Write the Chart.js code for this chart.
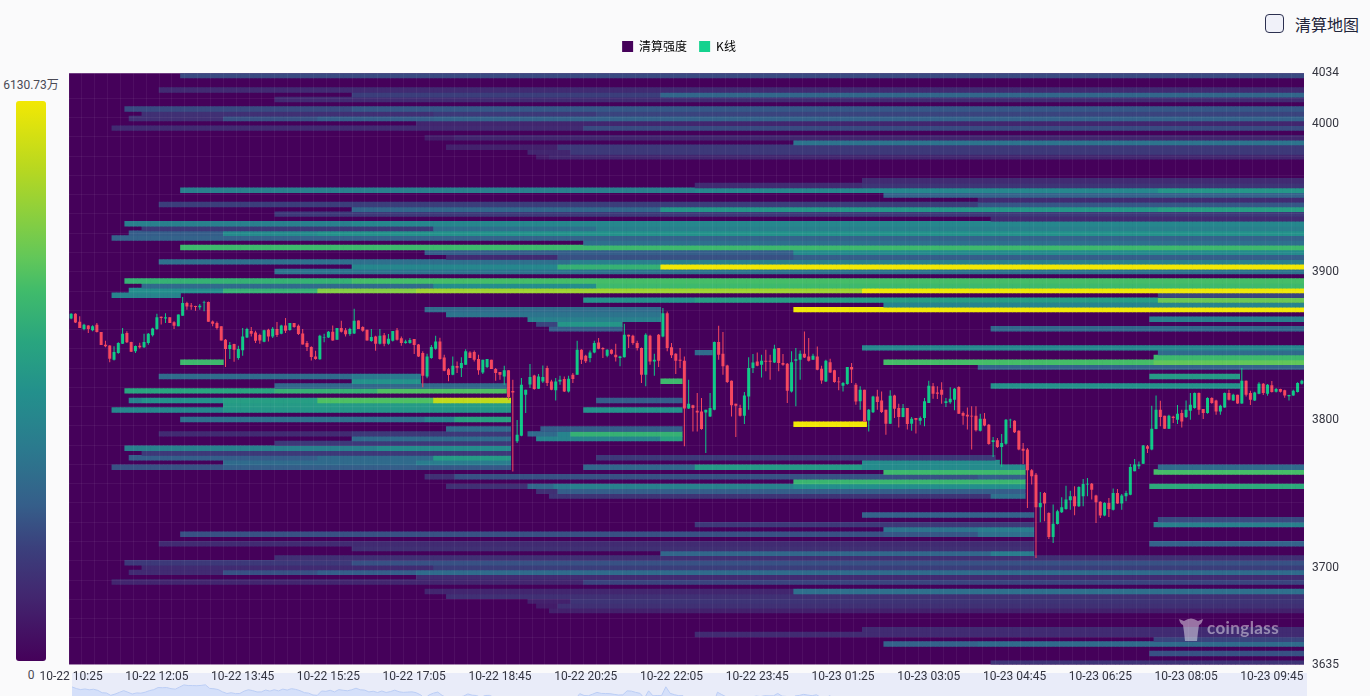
<!DOCTYPE html>
<html>
<head>
<meta charset="utf-8">
<title>清算地图</title>
<script src="https://cdn.jsdelivr.net/npm/chart.js@4"></script>
<style>
html, body { margin: 0; padding: 0; width: 1370px; height: 696px; overflow: hidden; background: #fafafb; font-family: Roboto, "Noto Sans CJK SC", sans-serif; }
#chart { position: absolute; left: 0; top: 0; z-index: 2; }
#slider { position: absolute; left: 72px; top: 673px; width: 1235px; height: 23px; background: #e9ecf9; overflow: hidden; z-index: 1; }
#visualBar { position: absolute; left: 16px; top: 101px; width: 30px; height: 560px; border-radius: 3px; }
.maxLabel, .minLabel { position: absolute; left: 0; width: 62px; text-align: center; font-size: 12px; color: #4a4a55; }
.maxLabel { top: 75px; }
.minLabel { top: 668px; }
#toggle { position: absolute; left: 1265px; top: 14px; width: 17px; height: 17px; border: 1.5px solid #2c3050; border-radius: 4px; background: #f0f1f9; }
#toggleText { position: absolute; left: 1295px; top: 13px; font-size: 16px; line-height: 22px; color: #22253a; font-family: "Noto Sans CJK SC", sans-serif; }
#mark { position: absolute; left: 1178px; top: 614px; width: 104px; height: 28px; z-index: 3; pointer-events: none; }
#mark span { position: absolute; left: 29px; top: 3px; font: 700 17px Lato, sans-serif; letter-spacing: .4px; color: rgba(255,255,255,.45); }
#mark svg { position: absolute; left: 0; top: 0; }
</style>
</head>
<body>
<div class="maxLabel">6130.73万</div>
<div id="visualBar"></div>
<div class="minLabel">0</div>
<div id="slider"><canvas id="miniChart" width="1235" height="60"></canvas></div>
<canvas id="chart" width="1358" height="696"></canvas>
<div id="toggle"></div>
<div id="toggleText">清算地图</div>
<div id="mark">
    <svg width="26" height="28" viewBox="0 0 26 28"><path d="M1 5 L6 7 Q13 2 20 7 L25 5 Q24 10 21 11 L20 18 L19 27 L7 27 L6 18 L5 11 Q2 10 1 5 Z" fill="rgba(255,255,255,.45)"/></svg>
    <span>coinglass</span>
</div>

<script>
// Velas de 5 minutos
const opens = [3868.5,3871.7,3866.3,3861.4,3863.8,3860.5,3864.3,3859.3,3850.8,3850.3,3840.7,3845.2,3851.5,3858.7,3852.6,3846.3,3850.1,3849,3851.9,3857.1,3861.4,3869.7,3868.5,3869.4,3866,3863.2,3870.3,3878.9,3877.3,3876.9,3876,3878.9,3879.6,3866.5,3865.4,3863.2,3854.2,3847.9,3851.2,3841.8,3847,3855.7,3860,3859.1,3857.3,3852.8,3860.9,3856.4,3861.4,3858.2,3863.8,3860.7,3865.4,3863.6,3858.4,3851.9,3849.2,3842.9,3840.9,3855.3,3855.7,3859.6,3854.2,3862,3860.5,3858,3858.4,3867.2,3862.7,3860.9,3853.3,3856.4,3851.5,3857.1,3851.5,3853.5,3860.5,3855.1,3851.9,3851.9,3854.6,3851,3845.2,3829.4,3841.8,3848.1,3853,3842.2,3834.2,3830.5,3836.4,3835,3837.3,3845.6,3845.8,3841.1,3832,3835.7,3840.6,3834.4,3832.3,3829.4,3833.5,3819.5,3785.6,3789.4,3817,3824,3830,3821.1,3826,3835,3826,3820,3826,3827.6,3819.3,3830.5,3830.5,3847.4,3843.3,3841.8,3845.6,3852.3,3848.5,3843.3,3847.4,3844,3841.8,3842.4,3857.5,3856.8,3851.9,3848.5,3830.5,3856.8,3839.5,3857.5,3856.4,3872.1,3849,3844.7,3840.6,3840,3807.8,3810,3806.3,3805.8,3805,3802.4,3806.9,3852.6,3844.7,3836.8,3826.5,3811,3808,3802.9,3815.9,3835,3839.5,3837.3,3840,3840,3838.8,3848.5,3838.4,3838,3819.3,3840,3840.6,3844.7,3842.9,3840.6,3842.9,3834.6,3826,3839,3833.5,3826,3823.1,3824.2,3835.7,3823.8,3812.6,3820.4,3799.7,3805.2,3815.9,3813.2,3806.9,3797.5,3816.6,3808.1,3802,3808.1,3797.5,3801.3,3799.5,3801.3,3811.4,3822.7,3818.6,3820.4,3811.4,3811.9,3813.7,3822.2,3804.7,3803.6,3802.9,3802.9,3792.8,3800.9,3796.8,3785.1,3786.3,3781.8,3784,3799.8,3799.5,3792.8,3780.6,3780,3766,3763.1,3741.1,3750.7,3737.3,3721,3729.8,3737.7,3740,3745.8,3748.5,3741.8,3748.5,3756.4,3757,3749,3744.9,3735.5,3744,3739.5,3750.7,3743.6,3748.5,3749.6,3765.4,3768.7,3770.5,3782.2,3780,3793.9,3806.9,3802.9,3794.1,3802.2,3800.2,3804.7,3802,3806.3,3808.1,3818.2,3807.4,3804.7,3814.8,3813.2,3805.8,3808.5,3818.2,3813.2,3817,3811.2,3826.5,3818.2,3813.2,3817.7,3824.5,3817.7,3823.4,3819.1,3820.9,3820,3816,3816.6,3818.9,3824.5];
const closes = [3871.7,3865.8,3862,3864.3,3861.4,3863.2,3859.3,3850.6,3849.7,3841.3,3845.8,3851.9,3858.2,3852.4,3846.1,3849.9,3849,3852.6,3858.2,3861.8,3869.4,3868.8,3869.4,3865.4,3863.6,3871.2,3878.9,3876.6,3876.6,3876.2,3877.1,3879.3,3866.3,3865,3862,3853.7,3847.9,3850.6,3847.4,3847.9,3856.4,3861.4,3858.2,3853.5,3853.7,3860.5,3856.4,3861.6,3857.3,3863.8,3860.2,3865.4,3862.7,3858,3851,3849.2,3842.5,3841.1,3856.9,3855.7,3859.6,3853.7,3862,3859.6,3857.8,3861.4,3867,3861.4,3860.2,3853.7,3856,3851.5,3856.9,3851.5,3854.8,3860,3854.2,3851.9,3853,3853.9,3850.6,3842.9,3829.9,3842.9,3849.2,3853,3841.1,3833.3,3830.3,3836.6,3835.3,3838.4,3846.3,3841.8,3840.6,3833.5,3840.6,3841.1,3834.4,3831.7,3830.5,3833.5,3815.5,3818.5,3790,3823.8,3820.4,3829,3820.9,3829.4,3829,3824.9,3820.4,3826,3827.2,3819.3,3827.8,3827.6,3847.4,3840.6,3839.7,3845.6,3851.9,3848.1,3847.8,3847.4,3844.7,3842.4,3842.9,3857.5,3856.4,3851.9,3848.5,3830.5,3857.5,3839.5,3840.6,3840,3872.1,3848.5,3843.6,3840,3840,3807.8,3811,3808,3805.1,3793.9,3806.9,3808,3852.6,3844,3836.2,3825.6,3810,3809.6,3802.9,3816.6,3835,3838.8,3836.6,3840,3839.3,3839.3,3848.1,3838.4,3837.3,3819.7,3839,3841,3844.7,3842.2,3840,3843.3,3833.9,3826.7,3840,3832.1,3825.6,3825.5,3824.9,3835.7,3834,3812.5,3820.4,3799,3806.9,3815.9,3812.1,3805.4,3797.5,3816.4,3807.6,3802,3808.1,3797.3,3800.9,3800.2,3801.3,3812.6,3823.1,3817.7,3817.7,3817,3812.6,3814.4,3821.1,3804.2,3802.9,3802.4,3802.4,3793,3800.9,3796.2,3783.8,3786.3,3781.8,3784.5,3800.2,3800.2,3791.7,3780,3779.3,3766,3762,3741.1,3744,3743.6,3721,3730,3738.4,3741.1,3746.3,3748.5,3741.8,3754.8,3756.8,3757,3753,3744.5,3735.5,3744,3739.9,3750.7,3743.6,3749,3750.7,3768.3,3769.9,3769.9,3782.7,3780.6,3794.1,3806.9,3802,3794.1,3802.9,3801.3,3804.2,3799,3806.9,3810.3,3818.2,3806.9,3804.7,3814.8,3811.4,3805.8,3809.6,3818.2,3813.7,3817,3811.2,3826.5,3817,3813.7,3818.6,3824.5,3818.2,3823.8,3818.9,3820.9,3819.1,3816.6,3816.8,3819.8,3824.9,3826.5];
const highs = [3872,3872,3870,3865,3864,3864,3865.4,3859.3,3853.5,3850.5,3849.7,3852.4,3862,3859.8,3852.8,3850.3,3852.1,3858.2,3858.7,3862.2,3871.7,3869.9,3872.1,3869.4,3866.7,3871.2,3882.9,3879.8,3878.9,3877.1,3878.2,3880.5,3880,3867.2,3866.5,3863.2,3854.6,3852.6,3851.5,3850.1,3862,3862.3,3862.7,3860.2,3858.2,3860.9,3861.6,3862.7,3866.1,3864.3,3868.8,3865.4,3865.4,3864.5,3861.4,3853.3,3849.7,3846.7,3857.5,3858.2,3860,3863.8,3862,3867,3862,3862.3,3875,3867.2,3863.2,3860.9,3861.4,3856.9,3861.4,3858.7,3858,3860,3862,3856.4,3854.2,3855.3,3854.6,3851.2,3846.3,3844.7,3850.6,3856.9,3855.5,3844,3835.1,3842.9,3839.5,3842.4,3847.8,3846.3,3846.9,3844,3840.6,3841.1,3840.6,3835,3832.3,3836.6,3833.5,3827.2,3800,3828.3,3820.4,3837.7,3830.5,3831,3836.8,3836.6,3827.2,3828.3,3829.9,3829.4,3829.9,3831.7,3853.5,3847.8,3844,3846.9,3853.5,3855.3,3849,3847.8,3847.8,3851.4,3843.3,3864.9,3857.5,3857.5,3853.5,3848.9,3858.6,3857.5,3844.7,3858,3875.5,3873.2,3851.9,3845.1,3848.5,3842.9,3827.2,3810.3,3818.2,3814.8,3806.9,3818.2,3853,3863.6,3859.3,3837.3,3826.7,3811,3810.3,3818.8,3842.4,3844.5,3845.6,3844,3847.4,3844,3850.8,3848.5,3844.5,3838.4,3846.3,3848.5,3846.9,3859.7,3855.3,3844.7,3849.6,3836.6,3840.6,3841.3,3833.9,3829,3825.6,3835.7,3838.4,3824.9,3822.7,3820.4,3807.4,3816.4,3820.4,3819.3,3806.9,3820,3817.1,3811,3810.8,3808.1,3802,3801.3,3802.4,3814.8,3826.5,3824.9,3822.7,3825.4,3814.8,3822,3821.6,3822.7,3805.8,3808.5,3809.2,3809.2,3804.2,3804.7,3797.3,3788.5,3787.8,3790.5,3800.7,3800.9,3799.8,3793,3784.5,3781.1,3766.9,3764.2,3751.4,3751.4,3737.7,3742.9,3739.5,3747.8,3755.7,3752.3,3755.2,3755.2,3760.2,3760.9,3757.5,3749.6,3745.1,3744.4,3747.4,3753.7,3753.4,3750.1,3752.3,3770.3,3773.7,3772,3783.1,3783.1,3809.6,3816.6,3813,3802.9,3803.6,3802.9,3810.1,3806.9,3813.2,3818.2,3818.6,3818.6,3807.4,3815.3,3815.3,3813.7,3810.3,3818.6,3820.4,3817.7,3817,3835,3826.7,3819.8,3819.1,3825.4,3824.9,3824.3,3826.3,3821.6,3821.1,3820.4,3817.1,3820.4,3825.4,3827.2];
const lows = [3868,3865.5,3862,3860.5,3858.7,3859.8,3859,3850.6,3849,3838.9,3840.2,3844.7,3851.2,3851.9,3845.8,3845.2,3848.3,3848.5,3850.8,3856.4,3860.9,3864.5,3865.4,3865.4,3861.4,3863.2,3870.3,3874.4,3874.4,3873.7,3874.4,3873.3,3866.3,3863.2,3861.1,3853.7,3835.7,3841.1,3839.3,3840.7,3843.4,3855.3,3856.4,3851.9,3851.5,3852.4,3853,3855.3,3856,3857.8,3858.7,3860.2,3862.3,3857.3,3851,3846.5,3840.2,3840.7,3840.7,3852.4,3855.3,3853.5,3854.2,3859.1,3856.4,3856.9,3858,3861.4,3859.6,3853.7,3852.8,3846.7,3851,3849.7,3850.8,3853,3853.7,3850.1,3851.5,3851.5,3844.5,3842.5,3822,3828.1,3841.3,3847.4,3840.7,3832.8,3826.1,3830.1,3831.7,3829,3837.3,3841.8,3839.5,3830.5,3831,3835,3834.4,3826.5,3827.2,3823.8,3813.7,3765.3,3784.4,3789,3804.7,3821.5,3820.4,3820.9,3824.9,3823,3820,3813.2,3823.8,3818.8,3818.6,3824.9,3830.5,3837.7,3838.4,3838.9,3845.1,3847.8,3841.8,3842.4,3844.2,3839.5,3836.2,3842.2,3848.5,3850.8,3846.9,3824.9,3822.7,3837.3,3829.9,3835.7,3855.9,3846.3,3841.8,3831,3835,3782.2,3807.4,3792.3,3792.3,3793.4,3777.7,3802,3806.5,3840.6,3830.5,3824.9,3802.4,3788.5,3802.4,3797.3,3806.9,3831.7,3836.2,3828.7,3832.8,3827.2,3838.4,3832.8,3836.6,3811.4,3818.6,3809.2,3827.2,3841.8,3839.5,3840.6,3833.5,3824.5,3825.6,3831.7,3825.1,3820,3819.3,3823.8,3824.9,3810.3,3806.9,3799,3792.3,3804.7,3806.9,3804.7,3790.1,3797.3,3801.3,3795,3801.8,3793.5,3792.8,3790.8,3796.8,3795.7,3811.4,3814.4,3814.1,3811,3808.7,3811,3806.5,3804,3796.8,3793.5,3780,3792.3,3792.3,3795.7,3783.3,3775,3781.1,3768.3,3783.3,3794.6,3791.2,3779.5,3770.3,3740.6,3756.4,3706.9,3731,3731.6,3719.7,3717,3729.4,3737.3,3739.5,3739.5,3735.7,3741.3,3741.8,3748.5,3746.3,3730.5,3733.9,3735,3734.6,3739,3743.4,3739.5,3745.1,3749.2,3765.4,3767,3770.3,3777.7,3779.5,3793.7,3795.7,3793.9,3793.9,3798,3797.3,3795,3801.3,3800.2,3807.6,3803.6,3800.7,3804.2,3811,3803.6,3803.6,3808.3,3813.2,3813,3811,3811,3815.9,3810.1,3812.8,3817.3,3816.8,3816.4,3818.6,3818.6,3818.6,3815,3813.2,3816.4,3818.6,3824];

// Precios del eje derecho
const yTicks = [3635, 3700, 3800, 3900, 4000, 4034];
const yMin = 3635;
const yMax = 4034;
const rowSize = 3.2233; // altura de un tramo de precio

// Bandas de liquidación: [fila, vela inicial, vela final (excluida), intensidad en 万]
const heatBands = [
    [0,26,288,1400],
    [3,21,288,800],
    [4,66,138,1200],[4,138,288,1900],
    [5,48,288,800],
    [7,13,66,1400],[7,66,288,1600],
    [8,17,85,900],[8,85,123,1100],[8,123,288,1300],
    [9,14,36,900],[9,36,58,1500],[9,58,85,1700],[9,85,288,1800],
    [10,81,288,700],
    [11,10,120,800],[11,120,288,1400],
    [13,83,90,500],[13,90,288,700],
    [14,169,288,2200],
    [15,88,114,600],[15,114,288,1100],
    [16,107,117,700],[16,117,288,1100],
    [17,109,112,500],[17,112,288,700],
    [22,185,288,800],
    [23,146,185,800],[23,185,288,1000],
    [24,26,146,2500],[24,146,254,2700],[24,254,288,3100],
    [25,190,288,1800],
    [26,212,288,800],
    [27,21,212,1200],[27,212,288,1600],
    [28,66,138,1900],[28,138,254,3100],[28,254,288,3300],
    [29,48,288,1100],
    [30,215,288,800],
    [31,13,66,2500],[31,66,288,2700],
    [32,17,85,1100],[32,85,123,2100],[32,123,288,2500],
    [33,14,36,1700],[33,36,58,2800],[33,58,288,3000],
    [34,10,288,1800],
    [35,120,288,2100],
    [36,26,288,4000],
    [37,83,169,1700],[37,169,288,2800],
    [38,88,114,800],[38,114,169,1500],[38,169,288,1700],
    [39,21,117,2100],[39,117,288,2500],
    [40,66,114,2700],[40,114,138,3800],[40,138,288,6130],
    [41,48,288,2200],
    [43,13,66,3800],[43,66,288,4100],
    [44,17,85,2000],[44,85,123,2900],[44,123,288,4000],
    [45,14,36,2900],[45,36,58,3800],[45,58,81,4800],[45,81,185,5100],[45,185,288,6100],
    [46,10,26,2600],[46,254,288,1300],
    [47,120,146,3000],[47,146,254,3300],[47,254,288,4500],
    [48,190,288,2600],
    [49,83,138,2000],[49,169,288,6130],
    [50,88,138,2200],
    [51,107,138,2500],[51,252,288,2500],
    [52,109,114,1300],[52,114,129,3100],
    [53,112,129,1700],[53,215,288,1900],
    [57,185,288,2700],
    [58,146,150,2000],[58,254,288,2000],
    [59,253,288,4000],
    [60,26,36,4000],[60,190,253,4100],[60,253,288,4400],
    [61,212,288,1800],
    [63,21,66,2000],[63,66,82,2300],[63,252,273,3200],
    [64,66,82,3000],[64,138,143,4000],
    [65,48,102,1900],[65,215,273,3000],
    [66,13,48,3500],[66,48,72,3800],[66,72,102,4200],
    [68,14,17,2600],[68,17,36,3000],[68,36,58,3300],[68,58,85,4200],[68,85,103,5500],[68,123,143,1700],
    [69,36,103,3200],
    [70,10,36,2700],[70,36,103,3100],[70,120,143,3000],
    [72,26,83,2100],[72,83,90,2600],[72,90,103,3400],
    [73,169,186,6130],
    [74,88,103,2000],[74,110,143,1700],
    [75,21,66,800],[75,66,103,1100],[75,107,114,2000],[75,114,117,2600],[75,117,143,3800],
    [76,66,103,2000],[76,109,138,2600],[76,138,143,3400],
    [77,48,103,1100],
    [78,13,72,2500],[78,72,103,2800],
    [79,17,103,1100],
    [80,14,58,1700],[80,58,85,2000],[80,85,103,3200],[80,123,216,1100],
    [81,36,81,2000],[81,81,103,2400],[81,185,217,2800],
    [82,10,36,1500],[82,36,81,1700],[82,81,103,1600],[82,120,146,1900],[82,146,185,3200],[82,185,223,2800],[82,254,288,2000],
    [83,190,223,4000],[83,253,288,4100],
    [84,83,90,900],[84,90,212,1500],[84,212,223,1700],
    [85,169,223,3900],
    [86,88,107,900],[86,107,113,1900],[86,113,117,2300],[86,117,169,2500],[86,169,223,2900],[86,252,288,3600],
    [87,109,114,900],[87,114,223,1700],
    [88,112,215,1000],[88,215,223,2100],
    [92,185,225,1800],
    [93,254,288,1400],
    [94,146,225,1100],[94,253,288,2500],
    [95,190,212,2200],[95,212,225,2400],
    [96,26,190,1500],[96,190,212,1600],[96,212,225,2100],
    [98,21,225,800],[98,252,288,1800],
    [99,66,225,900],
    [100,138,215,1900],[100,215,225,2400],
    [101,48,288,900],
    [102,13,66,1100],[102,66,288,1500],
    [103,17,85,800],[103,85,288,1200],
    [104,14,36,800],[104,36,58,1500],[104,58,81,1700],[104,81,288,2000],
    [105,81,288,800],
    [106,10,120,700],[106,120,288,1300],
    [108,83,169,700],[108,169,288,2100],
    [109,88,288,900],
    [110,107,117,600],[110,117,288,1000],
    [111,109,114,500],[111,114,288,900],
    [112,112,288,600],
    [116,185,288,800],
    [117,146,288,800],
    [118,253,288,1300],
    [119,190,212,1800],[119,212,288,2000],
    [121,252,288,1500],
    [123,215,288,1000]
];
const heatMax = 6130.73;

// Escala de colores del mapa
const colorStops = [
    [0, [69, 1, 90]], [0.12, [66, 40, 112]], [0.2, [59, 63, 124]], [0.28, [53, 95, 138]],
    [0.38, [43, 122, 142]], [0.48, [35, 144, 140]], [0.57, [41, 165, 127]], [0.66, [64, 187, 107]],
    [0.72, [98, 199, 89]], [0.88, [184, 216, 32]], [1, [242, 232, 4]]
];

function colorDe(valor) {
    const t = Math.min(valor / heatMax, 1);
    for (let i = 1; i < colorStops.length; i++) {
        const [t1, c1] = colorStops[i];
        if (t <= t1) {
            const [t0, c0] = colorStops[i - 1];
            const k = (t - t0) / (t1 - t0);
            return `rgb(${c0.map((c, j) => Math.round(c + (c1[j] - c) * k)).join(',')})`;
        }
    }
    return 'rgb(242,232,4)';
}

// Etiquetas de tiempo: una vela cada 5 minutos desde 10-22 10:25
const timeLabels = [];
for (let i = 0; i < opens.length; i++) {
    const total = 10 * 60 + 25 + i * 5;
    const dia = total >= 1440 ? '10-23' : '10-22';
    const h = String(Math.floor(total % 1440 / 60)).padStart(2, '0');
    const m = String(total % 60).padStart(2, '0');
    timeLabels.push(`${dia} ${h}:${m}`);
}

// Un dataset por fila de precio, con barras flotantes de una vela de ancho
const filas = {};
heatBands.forEach(([fila, desde, hasta, valor]) => {
    if (!filas[fila]) {
        filas[fila] = { data: [], colores: [] };
    }
    for (let i = desde; i < hasta; i++) {
        const techo = yMax - fila * rowSize;
        filas[fila].data.push({ x: timeLabels[i], y: [techo - rowSize, techo] });
        filas[fila].colores.push(colorDe(valor));
    }
});
const datasetsCalor = Object.values(filas).map(f => ({
    label: '清算强度',
    data: f.data,
    backgroundColor: f.colores,
    barPercentage: 1,
    categoryPercentage: 1,
    grouped: false,
    order: 3
}));

const verde = '#10c987';
const rojo = '#f5475f';
const coloresVela = opens.map((o, i) => closes[i] >= o ? verde : rojo);

const datasetsVela = [
    {
        label: 'K线',
        data: opens.map((o, i) => [o, closes[i]]),
        backgroundColor: coloresVela,
        barThickness: 3,
        grouped: false,
        inflateAmount: 0,
        order: 1
    },
    {
        label: 'K线 mecha',
        data: lows.map((l, i) => [l, highs[i]]),
        backgroundColor: coloresVela,
        barThickness: 1,
        grouped: false,
        inflateAmount: 0,
        order: 2
    }
];

// Fondo del área y separación bajo la leyenda
const fondoMapa = {
    id: 'fondoMapa',
    beforeInit(chart) {
        const fit = chart.legend.fit;
        chart.legend.fit = function () {
            fit.call(this);
            this.height += 10.8;
        };
    },
    beforeDatasetsDraw(chart) {
        const { ctx, chartArea } = chart;
        ctx.save();
        ctx.fillStyle = colorDe(0);
        ctx.fillRect(chartArea.left, chartArea.top, chartArea.width, chartArea.height);
        ctx.restore();
    }
};

Chart.defaults.font.family = 'Roboto, "Noto Sans CJK SC", sans-serif';
Chart.defaults.font.size = 12;
Chart.defaults.animation = false;

new Chart(document.getElementById('chart'), {
    type: 'bar',
    data: {
        labels: timeLabels,
        datasets: [...datasetsVela, ...datasetsCalor]
    },
    plugins: [fondoMapa],
    options: {
        responsive: false,
        layout: { padding: { top: 28.4, bottom: 11.5 } },
        plugins: {
            tooltip: { enabled: false },
            legend: {
                position: 'top',
                labels: {
                    boxWidth: 11,
                    boxHeight: 11,
                    padding: 12,
                    color: '#45454f',
                    font: { size: 12, family: '"Noto Sans CJK SC", sans-serif' },
                    generateLabels: () => [
                        { text: '清算强度', fillStyle: colorDe(0), lineWidth: 0, hidden: false, datasetIndex: 2 },
                        { text: 'K线', fillStyle: '#14d28e', lineWidth: 0, hidden: false, datasetIndex: 0 }
                    ]
                }
            }
        },
        scales: {
            x: {
                offset: true,
                grid: {
                    z: 1,
                    offset: true,
                    tickLength: 0,
                    color: ctx => ctx.index % 3 === 0 ? 'rgba(255,255,255,0.055)' : 'transparent'
                },
                border: { display: false },
                ticks: {
                    autoSkip: false,
                    maxRotation: 0,
                    minRotation: 0,
                    padding: 5,
                    color: '#33343f',
                    callback: (v, i) => i % 20 === 0 ? timeLabels[i] : ''
                },
                afterFit: scale => { scale.height = 20; }
            },
            y: {
                position: 'right',
                min: yMin,
                max: yMax,
                grid: { display: false, tickLength: 0 },
                border: { display: false },
                ticks: { padding: 8, color: '#33343f', callback: v => v },
                afterBuildTicks: scale => { scale.ticks = yTicks.map(value => ({ value })); },
                afterFit: scale => { scale.width = 54; }
            },
            yGrid: {
                position: 'left',
                min: yMin,
                max: yMax,
                grid: { z: 1, tickLength: 0, color: 'rgba(255,255,255,0.055)' },
                border: { display: false },
                ticks: { display: false, stepSize: 13 },
                afterFit: scale => { scale.width = 69; }
            }
        }
    }
});

// Mini gráfico del deslizador inferior
new Chart(document.getElementById('miniChart'), {
    type: 'line',
    data: {
        labels: timeLabels,
        datasets: [{
            data: closes,
            borderColor: '#bccef5',
            borderWidth: 1,
            backgroundColor: '#d5e0fa',
            fill: 'start',
            pointRadius: 0
        }]
    },
    options: {
        responsive: false,
        layout: { padding: 0 },
        plugins: { legend: { display: false }, tooltip: { enabled: false } },
        scales: {
            x: { display: false },
            y: { display: false, min: 3705, max: 3922 }
        }
    }
});

// Barra de intensidad a la izquierda
const pasos = colorStops.map(([t, c]) => `rgb(${c.join(',')}) ${(100 - t * 100).toFixed(0)}%`).reverse();
document.getElementById('visualBar').style.background = `linear-gradient(to bottom, ${pasos.join(', ')})`;
</script>
</body>
</html>
